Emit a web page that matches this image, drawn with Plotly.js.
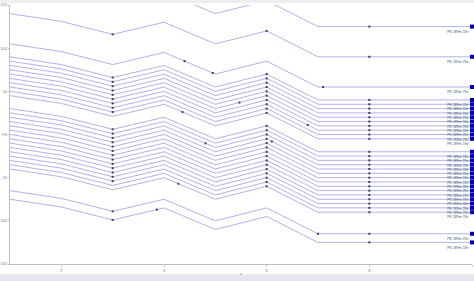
<!DOCTYPE html>
<html>
<head>
<meta charset="utf-8">
<script src="https://cdn.plot.ly/plotly-3.0.1.min.js"></script>
<style>html,body{margin:0;padding:0;background:#fff;}#chart{width:474px;height:281px;}</style>
</head>
<body>
<div id="chart"></div>
<script>
// x positions shared by every series
const xValues = [1, 2, 3, 4, 5, 6, 7, 8, 9, 10];

// series values, top to bottom
const series = [
  [175, 166, 151, 165, 140, 155, 125, 125, 125, 125],
  [140, 131, 116, 130, 105, 120, 90, 90, 90, 90],
  [105, 96, 81, 95, 70, 85, 55, 55, 55, 55],
  [90, 81, 66, 80, 55, 70, 40, 40, 40, 40],
  [85, 76, 61, 75, 50, 65, 35, 35, 35, 35],
  [80, 71, 56, 70, 45, 60, 30, 30, 30, 30],
  [75, 66, 51, 65, 40, 55, 25, 25, 25, 25],
  [70, 61, 46, 60, 35, 50, 20, 20, 20, 20],
  [65, 56, 41, 55, 30, 45, 15, 15, 15, 15],
  [60, 51, 36, 50, 25, 40, 10, 10, 10, 10],
  [55, 46, 31, 45, 20, 35, 5, 5, 5, 5],
  [50, 41, 26, 40, 15, 30, 0, 0, 0, 0],
  [45, 36, 21, 35, 10, 25, -5, -5, -5, -5],
  [30, 21, 6, 20, -5, 10, -20, -20, -20, -20],
  [25, 16, 1, 15, -10, 5, -25, -25, -25, -25],
  [20, 11, -4, 10, -15, 0, -30, -30, -30, -30],
  [15, 6, -9, 5, -20, -5, -35, -35, -35, -35],
  [10, 1, -14, 0, -25, -10, -40, -40, -40, -40],
  [5, -4, -19, -5, -30, -15, -45, -45, -45, -45],
  [0, -9, -24, -10, -35, -20, -50, -50, -50, -50],
  [-5, -14, -29, -15, -40, -25, -55, -55, -55, -55],
  [-10, -19, -34, -20, -45, -30, -60, -60, -60, -60],
  [-15, -24, -39, -25, -50, -35, -65, -65, -65, -65],
  [-20, -29, -44, -30, -55, -40, -70, -70, -70, -70],
  [-25, -34, -49, -35, -60, -45, -75, -75, -75, -75],
  [-30, -39, -54, -40, -65, -50, -80, -80, -80, -80],
  [-35, -44, -59, -45, -70, -55, -85, -85, -85, -85],
  [-40, -49, -64, -50, -75, -60, -90, -90, -90, -90],
  [-65, -74, -89, -75, -100, -85, -115, -115, -115, -115],
  [-75, -84, -99, -85, -110, -95, -125, -125, -125, -125]
];

// x positions of the small point markers on each series
const pointX = [
  [8], [3, 6, 8], [4.4, 4.95, 7.1],
  [3, 6, 8], [3, 6, 8], [3, 6, 8], [3, 6, 8], [3, 6, 8],
  [3, 5.47, 6, 8], [3, 6, 8], [3, 6, 6.8, 8], [3, 6, 8], [4.36, 6, 8],
  [3, 6, 8], [3, 6, 8], [3, 4.81, 6, 8], [3, 6, 6.1, 8], [3, 6, 8],
  [3, 6, 8], [3, 6, 8], [3, 6, 8], [3, 6, 8], [3, 6, 8],
  [3, 6, 8], [3, 6, 8], [3, 6, 8], [6, 8], [4.28, 6, 8],
  [3, 7, 8], [3, 3.86, 8]
];

// end label text
const endLabel = 'PK 189m 19e';

const xTicks = [2, 4, 6, 8, 10];
const yTicks = [150, 100, 50, 0, -50, -100, -150];

function interp(xs, ys, x) {
  for (let i = 0; i < xs.length - 1; i++) {
    if (x >= xs[i] && x <= xs[i + 1]) {
      const t = (x - xs[i]) / (xs[i + 1] - xs[i]);
      return ys[i] + t * (ys[i + 1] - ys[i]);
    }
  }
  return ys[ys.length - 1];
}

const traces = [];
series.forEach(ys => {
  traces.push({
    type: 'scatter', mode: 'lines', x: xValues, y: ys,
    line: {color: 'rgb(168,168,236)', width: 0.9}, hoverinfo: 'skip', showlegend: false
  });
});

const px = [], py = [];
series.forEach((ys, i) => {
  pointX[i].forEach(x => { px.push(x); py.push(interp(xValues, ys, x)); });
});
traces.push({
  type: 'scatter', mode: 'markers', x: px, y: py,
  marker: {color: '#3a3a60', size: 2, symbol: 'square'}, showlegend: false, hoverinfo: 'skip'
});

const ex = series.map(() => xValues[xValues.length - 1]);
const ey = series.map(ys => ys[ys.length - 1]);
traces.push({
  type: 'scatter', mode: 'markers+text', x: ex, y: ey,
  text: series.map(() => endLabel), textposition: 'bottom left',
  textfont: {size: 3.5, color: '#555', family: 'Liberation Sans'},
  marker: {color: '#0000b4', size: 4, symbol: 'square'},
  cliponaxis: false, showlegend: false, hoverinfo: 'skip'
});

const layout = {
  width: 474, height: 281,
  margin: {l: 10, r: 2, t: 5, b: 17},
  paper_bgcolor: '#ffffff', plot_bgcolor: '#ffffff',
  font: {family: 'Liberation Sans', size: 4, color: '#777'},
  showlegend: false,
  xaxis: {
    range: [1, 10], tickvals: xTicks, ticktext: xTicks.map(String),
    showgrid: false, zeroline: false, showline: true, linecolor: '#c0c0c0', linewidth: 1,
    ticks: 'outside', ticklen: 2, tickcolor: '#c0c0c0', tickfont: {size: 4, color: '#777'},
    title: {text: 'x', font: {size: 4, color: '#777'}, standoff: 0}
  },
  yaxis: {
    range: [-150, 150], tickvals: yTicks, ticktext: yTicks.map(String),
    showgrid: false, zeroline: false, showline: true, linecolor: '#c0c0c0', linewidth: 1,
    ticks: 'outside', ticklen: 1, tickcolor: '#c0c0c0', tickfont: {size: 4, color: '#777'},
    title: {text: 'y', font: {size: 4, color: '#777'}, standoff: 0}
  },
  shapes: [
    {type: 'rect', xref: 'paper', yref: 'paper', x0: -0.03, x1: 1.01, y0: 1.008, y1: 1.03,
     fillcolor: '#eeeeee', line: {width: 0}, layer: 'below'},
    {type: 'rect', xref: 'paper', yref: 'paper', x0: -0.03, x1: 1.01, y0: -0.07, y1: -0.04,
     fillcolor: '#e6e6f0', line: {width: 0}, layer: 'below'}
  ]
};

Plotly.newPlot('chart', traces, layout, {displayModeBar: false, staticPlot: true});
</script>
</body>
</html>
